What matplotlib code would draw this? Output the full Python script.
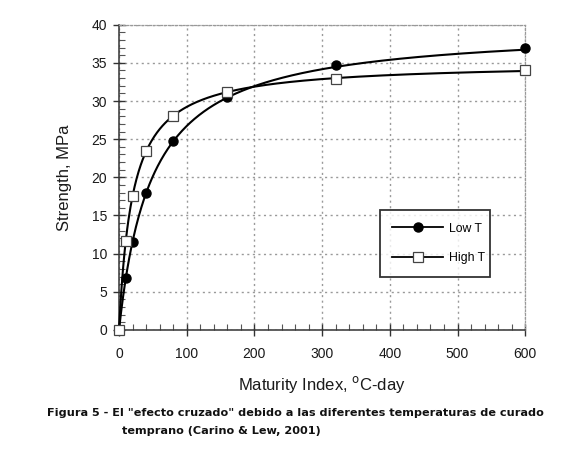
import numpy as np
import matplotlib
matplotlib.use("Agg")
import matplotlib.pyplot as plt
from matplotlib.ticker import MultipleLocator

# maturity index (°C-day) and strength (MPa)
maturity = [0, 10, 20, 40, 80, 160, 320, 600]
low_t = [0, 6.8, 11.5, 17.9, 24.7, 30.5, 34.7, 37.0]
high_t = [0, 11.7, 17.6, 23.4, 28.0, 31.2, 32.9, 34.0]

x_ticks = [0, 100, 200, 300, 400, 500, 600]
y_ticks = [0, 5, 10, 15, 20, 25, 30, 35, 40]

caption_1 = 'Figura 5 - El "efecto cruzado" debido a las diferentes temperaturas de curado'
caption_2 = 'temprano (Carino & Lew, 2001)'


def hyperbolic_curve(t, s):
    """Fit S = Su*k*t/(1+k*t) through the points (linear in 1/t, 1/S)."""
    t = np.asarray(t[1:], float)
    s = np.asarray(s[1:], float)
    slope, icpt = np.polyfit(1 / t, 1 / s, 1)
    su = 1 / icpt
    k = icpt / slope
    tt = np.linspace(0, max(t), 600)
    return tt, su * k * tt / (1 + k * tt)


plt.rcParams['font.family'] = ['Liberation Sans', 'DejaVu Sans']

fig = plt.figure(figsize=(5.82, 4.63), dpi=100)
ax = fig.add_axes([0.2045, 0.2873, 0.698, 0.6594])

for vals in (low_t, high_t):
    tt, ss = hyperbolic_curve(maturity, vals)
    ax.plot(tt, ss, color='black', lw=1.5, zorder=3, clip_on=False)

ax.plot(maturity, low_t, ls='none', marker='o', ms=6.5, mfc='black', mec='black',
        zorder=4, clip_on=False)
ax.plot(maturity, high_t, ls='none', marker='s', ms=7.5, mfc='white', mec='#444444',
        mew=0.9, zorder=5, clip_on=False)

# legend entries
ax.plot([], [], color='black', lw=1.3, marker='o', ms=6.5, mfc='black', label='Low T')
ax.plot([], [], color='black', lw=1.3, marker='s', ms=7.5, mfc='white', mec='#444444',
        mew=0.9, label='High T')
leg = ax.legend(loc='lower left', bbox_to_anchor=(0.642, 0.175, 0.271, 0.207), mode='expand',
                frameon=True, fancybox=False, fontsize=8.8, handlelength=4.2,
                labelspacing=1.45, borderpad=1.0, handletextpad=0.45, borderaxespad=0)
leg.get_frame().set_edgecolor('black')
leg.get_frame().set_linewidth(1.3)

ax.set_xlim(0, 600)
ax.set_ylim(0, 40)
ax.set_xticks(x_ticks)
ax.set_yticks(y_ticks)
ax.xaxis.set_minor_locator(MultipleLocator(20))
ax.yaxis.set_minor_locator(MultipleLocator(1))
ax.tick_params(which='major', direction='inout', length=9, width=1, labelsize=10,
               color='#333333', labelcolor='#1a1a1a')
ax.tick_params(which='minor', direction='in', length=4, width=0.8, color='#555555')
ax.tick_params(axis='x', pad=8)
ax.tick_params(axis='y', pad=4)

ax.grid(True, which='major', ls=(0, (1.5, 2.5)), color='#999999', lw=1)
for side in ('left', 'bottom'):
    ax.spines[side].set_color('#333333')
    ax.spines[side].set_linewidth(1.1)
for side in ('top', 'right'):
    ax.spines[side].set_color('#999999')
    ax.spines[side].set_linewidth(0.9)
    ax.spines[side].set_linestyle((0, (1.5, 1.5)))

ax.set_xlabel('Maturity Index, $^{\\mathrm{o}}$C-day', fontsize=12, color='#1a1a1a', labelpad=9)
ax.set_ylabel('Strength, MPa', fontsize=12, color='#1a1a1a', labelpad=14)

fig.text(47 / 582, 1 - 413 / 463, caption_1, family='DejaVu Sans', fontweight='bold',
         fontsize=8.1, color='#111111', ha='left', va='center')
fig.text(122 / 582, 1 - 431 / 463, caption_2, family='DejaVu Sans', fontweight='bold',
         fontsize=8.1, color='#111111', ha='left', va='center')

fig.savefig('out.png', dpi=100)
